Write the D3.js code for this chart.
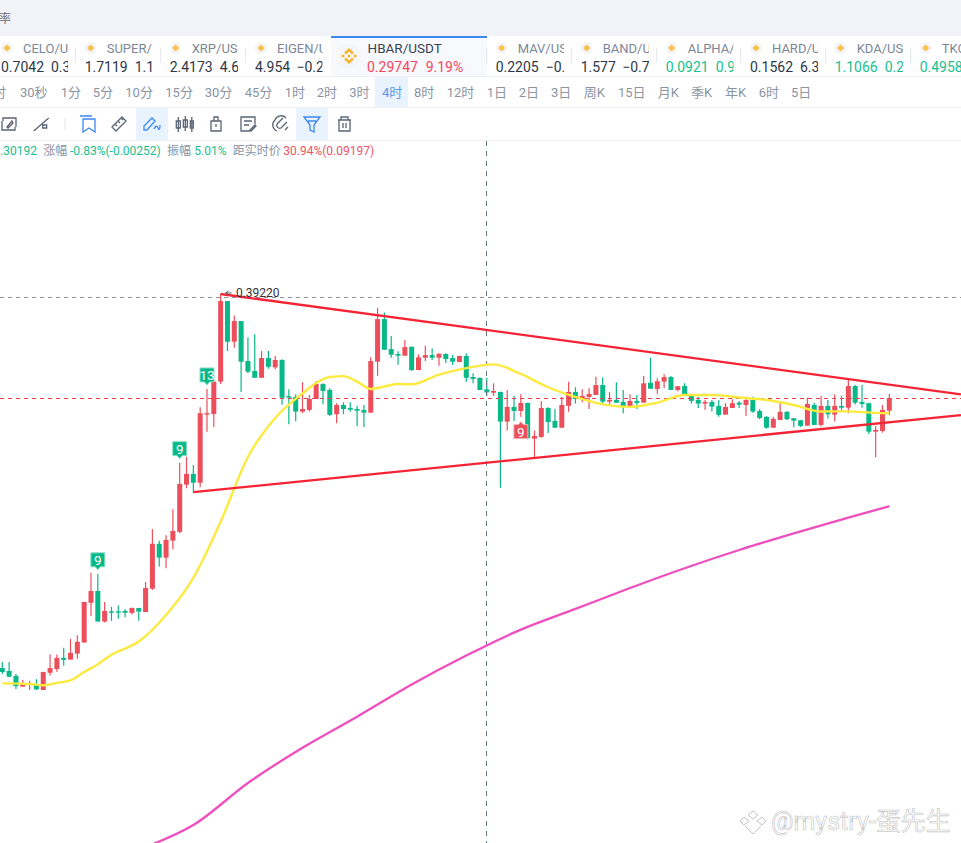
<!DOCTYPE html>
<html>
<head>
<meta charset="utf-8">
<script src="https://cdn.jsdelivr.net/npm/d3@7"></script>
<style>
    html, body { margin: 0; padding: 0; background: #fff; overflow: hidden; }
    svg { display: block; }
    text { font-family: Roboto, "Noto Sans CJK SC", sans-serif; }
</style>
</head>
<body>
<div id="chart"></div>
<script>
// candles, oldest first (red = up, green = down)
var opens = [
    .1451,.1440,.1421,.1381,.1391,.1390,.1369,.1433,.1447,.1491,
    .1484,.1508,.1553,.1726,.1781,.1642,.1687,.1687,.1689,.1680,
    .1702,.1684,.1792,.2019,.1946,.2036,.2084,.2363,.2431,.2375,
    .2846,.2851,.3107,.3849,.3455,.3650,.3282,.3196,.3139,.3308,
    .3227,.3291,.2989,.2983,.2869,.2882,.2967,.3087,.3039,.2849,
    .2920,.2897,.2889,.2882,.2861,.3276,.3669,.3388,.3344,.3329,
    .3409,.3204,.3311,.3334,.3311,.3344,.3308,.3273,.3326,.3145,
    .3137,.30444,.3017,.3023,.2794,.2905,.2874,.2936,.2670,.2682,
    .2897,.2799,.2749,.2913,.3023,.2967,.2983,.2999,.3079,.2946,
    .2959,.2944,.2913,.2952,.2938,.3098,.3047,.3107,.3145,.3039,
    .3071,.2996,.2959,.2931,.2944,.2913,.2846,.2897,.2938,.2920,
    .2959,.2874,.2828,.2749,.2806,.2867,.2819,.2804,.2764,.2920,
    .2769,.2913,.2846,.2913,.2899,.3071,.2944,.2934,.2720,.2725,
    .2876];
var highs = [
    .1475,.1475,.1428,.1406,.1403,.1409,.1437,.1504,.1504,.1532,
    .1568,.1583,.1730,.1870,.1864,.1730,.1708,.1714,.1696,.1705,
    .1703,.1824,.2099,.2035,.2066,.2213,.2505,.2545,.2490,.2902,
    .3047,.3113,.39220,.3849,.3705,.3650,.3496,.3524,.3370,.3370,
    .3326,.3297,.3045,.3005,.3102,.2999,.3113,.3093,.3053,.2933,
    .2941,.2941,.2915,.2920,.3314,.3781,.3735,.3508,.3368,.3471,
    .3409,.3341,.3418,.3394,.3350,.3350,.3334,.3328,.3350,.3177,
    .3143,.3139,.3093,.3025,.3039,.2993,.3005,.2938,.2728,.2952,
    .2902,.2889,.2985,.3107,.3061,.3045,.3053,.3148,.3143,.3021,
    .3102,.3039,.3005,.2999,.3153,.3311,.3135,.3168,.3153,.3071,
    .3093,.2999,.2985,.2959,.2959,.2959,.2934,.2965,.2952,.2985,
    .2985,.2889,.2836,.2831,.2938,.2874,.2821,.2806,.2977,.2938,
    .2991,.2959,.3005,.2993,.3121,.3079,.3079,.2938,.2762,.2920,
    .3007];
var lows = [
    .1428,.1417,.1372,.1381,.1369,.1369,.1369,.1423,.1437,.1460,
    .1484,.1487,.1553,.1668,.1642,.1638,.1645,.1654,.1661,.1673,
    .1645,.1684,.1786,.1900,.1892,.1990,.2077,.2340,.2313,.2346,
    .2720,.2754,.3087,.3370,.3400,.3023,.3177,.3139,.3139,.3215,
    .3210,.2922,.2774,.2797,.2857,.2869,.2967,.2926,.2836,.2782,
    .2849,.2867,.2762,.2754,.2861,.3156,.3382,.3311,.3249,.3329,
    .3196,.3204,.3282,.3291,.3240,.3265,.3247,.3273,.3107,.3094,
    .3039,.2993,.2993,.2344,.2728,.2799,.2831,.2666,.2534,.2677,
    .2711,.2749,.2749,.2867,.2931,.2941,.2889,.2999,.2934,.2920,
    .2938,.2857,.2895,.2889,.2938,.3049,.3009,.3053,.3039,.3029,
    .3001,.2931,.2897,.2882,.2869,.2831,.2846,.2897,.2897,.2836,
    .2861,.2811,.2742,.2749,.2806,.2806,.2752,.2754,.2764,.2769,
    .2757,.2816,.2794,.2864,.2857,.2923,.2899,.2704,.2541,.2713,
    .2841];
var closes = [
    .1436,.1418,.1383,.1391,.1393,.1371,.1436,.1451,.1491,.1483,
    .1511,.1556,.1730,.1781,.1642,.1689,.1681,.1681,.1681,.1702,
    .1686,.1795,.2019,.1946,.2040,.2089,.2367,.2431,.2375,.2857,
    .2857,.3107,.3849,.3455,.3650,.3276,.3190,.3139,.3308,.3232,
    .3291,.2977,.2977,.2869,.2889,.2967,.3087,.3031,.2844,.2920,
    .2889,.2884,.2876,.2861,.3282,.3669,.3382,.3337,.3329,.3406,
    .3204,.3314,.3334,.3311,.3346,.3299,.3276,.3326,.3139,.3129,
    .3039,.30192,.3031,.2794,.2905,.2874,.2936,.2673,.2689,.2897,
    .2791,.2749,.2920,.3023,.2967,.2991,.3007,.3079,.2946,.2959,
    .2938,.2907,.2952,.2936,.3093,.3049,.3110,.3145,.3039,.3069,
    .3001,.2952,.2931,.2944,.2907,.2844,.2905,.2934,.2923,.2959,
    .2869,.2821,.2749,.2814,.2867,.2811,.2801,.2762,.2928,.2769,
    .2913,.2849,.2913,.2899,.3071,.2938,.2928,.2720,.2733,.2882,
    .29747];

// moving averages, read every few candles
var maFastIdx = [0,4,6,8,10,12,14,16,20,24,28,32,36,40,44,46,48,50,52,54,56,58,60,64,68,72,76,80,84,88,92,96,100,104,108,112,116,120,124,128,130];
var maFast = [.1393,.1391,.1386,.1395,.1404,.1436,.1466,.1503,.1557,.1671,.1844,.2141,.2543,.2821,.3011,.3096,.3145,.3153,.3107,.3047,.3067,.3087,.3085,.3166,.3221,.3253,.3171,.3061,.2983,.2925,.2905,.2938,.2999,.2999,.2979,.2959,.2920,.2870,.2871,.2859,.2857];
var maSlowIdx = [22,28,36,44,52,60,68,76,84,92,100,108,116,124,130];
var maSlow = [.0908,.0956,.1069,.1174,.1275,.1389,.1500,.1607,.1698,.1795,.1892,.1986,.2076,.2165,.2231];

// drawn trend lines [candle index, price]
var trendUpper = [[32, .39220], [140.5, .3004]];
var trendLower = [[28, .2316], [140.5, .2843]];

var lastPrice = 0.29747;
var highPrice = 0.39220;
var highGuide = 0.3887;
var crossIdx = 71;

// sequence tags on candles
var tagIdx = [14, 26, 30, 76];
var tagText = ['9', '9', '13', '9'];
var tagUp = [true, true, true, false];

// ticker strip
var tabNames = ['CELO/U','SUPER/','XRP/US','EIGEN/U','MAV/US','BAND/U','ALPHA/','HARD/U','KDA/US','TKO'];
var tabPrices = ['0.7042','1.7119','2.4173','4.954','0.2205','1.577','0.0921','0.1562','1.1066','0.4958'];
var tabChanges = ['0.3','1.1','4.6','\u22120.2','\u22120.','\u22120.7','0.9','6.3','0.2',''];
var tabGreen = ['ALPHA/','KDA/US','TKO'];

var intervals = ['\u65f6','30\u79d2','1\u5206','5\u5206','10\u5206','15\u5206','30\u5206','45\u5206','1\u65f6','2\u65f6','3\u65f6','4\u65f6','8\u65f6','12\u65f6','1\u65e5','2\u65e5','3\u65e5','\u5468K','15\u65e5','\u6708K','\u5b63K','\u5e74K','6\u65f6','5\u65e5'];

var width = 961, height = 843;
var RED = '#ec4f5b', GREEN = '#07b888', GREY = '#8b94a3', BLUE = '#3d88ef';

var svg = d3.select('#chart').append('svg')
    .attr('xmlns', 'http://www.w3.org/2000/svg')
    .attr('width', width)
    .attr('height', height);

// crisp 1px guide lines
function snap(v) {
    return Math.floor(v) + 0.5;
}

// --- page chrome ---
svg.append('rect').attr('width', width).attr('height', height).attr('fill', '#fff');
svg.append('rect').attr('width', width).attr('height', 36).attr('fill', '#f1f3f8');
svg.append('text').attr('x', -1).attr('y', 23).attr('font-size', 12).attr('fill', '#6b7280').text('\u7387');

[76.5, 107.5, 140.5].forEach(function(y){
    svg.append('line').attr('x1', 0).attr('x2', width).attr('y1', y).attr('y2', y)
        .attr('stroke', '#eef0f4');
});

// ticker strip
var tabIconX = [7, 90.7, 175.7, 261, 501.7, 586.7, 671.7, 756, 840.7, 925.7];
var tabClipEnd = [68, 152.5, 238, 322.5, 564, 649, 733.5, 818, 903, 961];
var defs = svg.append('defs');
var diamond = 'M0,-3.6L3.6,0L0,3.6L-3.6,0Z';

svg.append('rect').attr('x', 331).attr('y', 38).attr('width', 156).attr('height', 38).attr('fill', '#f8f9fc');
svg.append('rect').attr('x', 331).attr('y', 36).attr('width', 156).attr('height', 2).attr('fill', BLUE);

var tabs = svg.selectAll('g.tab').data(tabNames).join('g').attr('class', 'tab')
    .attr('clip-path', function(d, i){ return 'url(#tabclip' + i + ')'; });
tabNames.forEach(function(d, i){
    defs.append('clipPath').attr('id', 'tabclip' + i).append('rect')
        .attr('x', tabIconX[i] - 10).attr('y', 38).attr('width', tabClipEnd[i] - tabIconX[i] + 10).attr('height', 38);
});
tabs.append('circle').attr('cx', function(d, i){ return tabIconX[i]; }).attr('cy', 48).attr('r', 6).attr('fill', '#f5f5f7');
tabs.append('path').attr('d', diamond).attr('fill', '#f7c04a')
    .attr('transform', function(d, i){ return 'translate(' + tabIconX[i] + ',48)'; });
tabs.append('text').attr('x', function(d, i){ return tabIconX[i] + 16; }).attr('y', 53)
    .attr('font-size', 13).attr('fill', '#7c8797').text(function(d){ return d; });
tabs.append('text').attr('x', function(d, i){ return tabIconX[i] - 6; }).attr('y', 72)
    .attr('font-size', 14).attr('fill', function(d){ return tabGreen.indexOf(d) >= 0 ? '#17c08e' : '#2d3748'; })
    .text(function(d, i){ return tabPrices[i]; });
tabs.append('text').attr('x', function(d, i){ return tabIconX[i] - 6 + (tabPrices[i].length > 5 ? 50 : 41.5); }).attr('y', 72)
    .attr('font-size', 14).attr('fill', function(d){ return tabGreen.indexOf(d) >= 0 ? '#17c08e' : '#2d3748'; })
    .text(function(d, i){ return tabChanges[i]; });

svg.selectAll('line.tabsep').data([75.3, 160.7, 245.7, 486.7, 571.7, 656.7, 740.7, 825.7, 910.7]).join('line')
    .attr('class', 'tabsep')
    .attr('x1', function(d){ return d; }).attr('x2', function(d){ return d; })
    .attr('y1', 48).attr('y2', 63).attr('stroke', '#e3e6eb');

// active ticker
svg.append('circle').attr('cx', 349).attr('cy', 56).attr('r', 12).attr('fill', '#f6f6f8');
var binance = svg.append('g').attr('transform', 'translate(349,56)').attr('fill', '#f7b32b');
binance.append('path').attr('d', 'M0,-8L4.8,-3.2L3,-1.4L0,-4.4L-3,-1.4L-4.8,-3.2Z');
binance.append('path').attr('d', 'M0,8L4.8,3.2L3,1.4L0,4.4L-3,1.4L-4.8,3.2Z');
binance.append('path').attr('d', 'M0,-1.8L1.8,0L0,1.8L-1.8,0Z');
binance.append('path').attr('d', 'M-6,-1.8L-4.2,0L-6,1.8L-7.8,0Z');
binance.append('path').attr('d', 'M6,-1.8L7.8,0L6,1.8L4.2,0Z');
svg.append('text').attr('x', 367.5).attr('y', 53).attr('font-size', 13.5).attr('fill', '#3a4456').text('HBAR/USDT');
svg.append('text').attr('x', 367).attr('y', 72).attr('font-size', 14).attr('fill', '#f6465d').text(lastPrice.toFixed(5));
svg.append('text').attr('x', 425.7).attr('y', 72).attr('font-size', 14).attr('fill', '#f6465d').text('9.19%');

// interval row
var intervalX = [-7, 20, 60.7, 92.7, 125.3, 165.3, 204.7, 244.7, 284.7, 316.7, 349.3, 382, 414, 446.7, 486.7, 518.7, 551, 583.7, 618, 657.7, 691, 725, 758.7, 791];
svg.append('rect').attr('x', 375).attr('y', 77).attr('width', 33).attr('height', 30).attr('fill', '#e8f3fe');
svg.selectAll('text.interval').data(intervals).join('text').attr('class', 'interval')
    .attr('x', function(d, i){ return intervalX[i]; }).attr('y', 97)
    .attr('font-size', 13)
    .attr('fill', function(d, i){ return i === 11 ? '#5b97ea' : GREY; })
    .text(function(d){ return d; });

// toolbar
svg.append('rect').attr('x', 136).attr('y', 108).attr('width', 32).attr('height', 32).attr('fill', '#e8f3fe');
svg.append('rect').attr('x', 296).attr('y', 108).attr('width', 32).attr('height', 32).attr('fill', '#e8f3fe');
svg.append('line').attr('x1', 65).attr('x2', 65).attr('y1', 118).attr('y2', 130).attr('stroke', '#e3e6eb');
var toolIcons = [
    [9, '#5a6475', 'M-6,-3V-6H3M6,3V6H-3M-7,-3V6H-3M7,3V-6H3M-2,3L3,-3L4,-1L-1,4Z'],
    [41.7, '#5a6475', 'M-8,7L7,-6M1,1h4v3h-4Z'],
    [88, BLUE, 'M-8,-8H4M-5,-5H7V8L1,4L-5,8Z'],
    [119, '#5a6475', 'M-7,3L3,-7L7,-3L-3,7ZM-4,0L-2,2M-1,-3L1,-1M2,-6L4,-4'],
    [151, BLUE, 'M-7,6V2L1,-6L4,-3L-4,6ZM3,5Q5,0 7,4T9,1'],
    [184.3, '#5a6475', 'M-8,-3H-4V4H-8ZM-1,-4H3V3H-1ZM6,-3H9V4H6ZM-6,-7V8M1,-8V7M7.5,-7V8'],
    [216, '#5a6475', 'M-5,-3H5V7H-5ZM-2,-3V-7H2V-3M0,0V3'],
    [248, '#5a6475', 'M7,0V-7H-7V7H2M-4,-3H4M-4,1H1M2,6L7,1L8,2L3,7Z'],
    [280, '#5a6475', 'M-3,7A6.5,6.5 0 0 1 -5,-4A6.5,6.5 0 0 1 6,-6M7,-2L1,4A3,3 0 0 1 -3,0L3,-6M5,6L8,3'],
    [312, BLUE, 'M-8,-7H8L2,1V8L-2,6V1ZM-4,-3H4'],
    [344, '#5a6475', 'M-6,-4H7M-3,-4V-7H4V-4M-5,-4V7H6V-4M-1,-1V4M2,-1V4']
];
svg.selectAll('path.tool').data(toolIcons).join('path').attr('class', 'tool')
    .attr('d', function(d){ return d[2]; })
    .attr('transform', function(d){ return 'translate(' + d[0] + ',124)'; })
    .attr('fill', 'none').attr('stroke', function(d){ return d[1]; }).attr('stroke-width', 1.3);

// crosshair readout
var readout = [
    [0, '.30192', '#17c08e'],
    [43.3, '\u6da8\u5e45', GREY],
    [70, '-0.83%(-0.00252)', '#17c08e'],
    [167, '\u632f\u5e45', GREY],
    [194.3, '5.01%', '#17c08e'],
    [232.7, '\u8ddd\u5b9e\u65f6\u4ef7', GREY],
    [283.3, '30.94%(0.09197)', '#f0555f']
];
svg.selectAll('text.readout').data(readout).join('text').attr('class', 'readout')
    .attr('x', function(d){ return d[0]; }).attr('y', 155).attr('font-size', 12)
    .attr('fill', function(d){ return d[2]; }).text(function(d){ return d[1]; });

// --- chart ---
var x = d3.scaleLinear().domain([0, 130]).range([2.3, 889.3]);
var y = d3.scaleLog().domain([lastPrice, highPrice]).range([398, 294]);

defs.append('clipPath').attr('id', 'plot').append('rect')
    .attr('x', 0).attr('y', 141).attr('width', width).attr('height', height - 141);
var plot = svg.append('g').attr('clip-path', 'url(#plot)');

plot.append('line').attr('x1', 0).attr('x2', width)
    .attr('y1', snap(y(highGuide))).attr('y2', snap(y(highGuide)))
    .attr('stroke', '#8f949c').attr('stroke-dasharray', '4,4');

var candles = plot.selectAll('g.candle').data(closes).join('g').attr('class', 'candle')
    .attr('fill', function(d, i){ return d >= opens[i] ? RED : GREEN; })
    .attr('stroke', function(d, i){ return d >= opens[i] ? RED : GREEN; });
candles.append('line')
    .attr('x1', function(d, i){ return x(i); }).attr('x2', function(d, i){ return x(i); })
    .attr('y1', function(d, i){ return y(highs[i]); }).attr('y2', function(d, i){ return y(lows[i]); })
    .attr('stroke-width', 1.2);
candles.append('rect')
    .attr('x', function(d, i){ return x(i) - 2.5; })
    .attr('width', 5)
    .attr('y', function(d, i){ return y(Math.max(d, opens[i])); })
    .attr('height', function(d, i){ return Math.max(1.2, Math.abs(y(d) - y(opens[i]))); })
    .attr('stroke', 'none');

// last price guide sits over the candles
plot.append('line').attr('x1', 0).attr('x2', width)
    .attr('y1', snap(y(lastPrice))).attr('y2', snap(y(lastPrice)))
    .attr('stroke', '#ee3f4d').attr('stroke-dasharray', '4,4');

// crosshair
plot.append('line').attr('x1', snap(x(crossIdx))).attr('x2', snap(x(crossIdx)))
    .attr('y1', 141).attr('y2', height)
    .attr('stroke', '#64798e').attr('stroke-dasharray', '5,5');

var maLine = d3.line()
    .x(function(d){ return x(d[0]); })
    .y(function(d){ return y(d[1]); })
    .curve(d3.curveMonotoneX);

plot.append('path').attr('d', maLine(d3.zip(maFastIdx, maFast)))
    .attr('fill', 'none').attr('stroke', '#fcea3f').attr('stroke-width', 2.4);
plot.append('path').attr('d', maLine(d3.zip(maSlowIdx, maSlow)))
    .attr('fill', 'none').attr('stroke', '#ee4fbe').attr('stroke-width', 2.3);

var straight = d3.line().x(function(d){ return x(d[0]); }).y(function(d){ return y(d[1]); });
[trendUpper, trendLower].forEach(function(t){
    plot.append('path').attr('d', straight(t))
        .attr('fill', 'none').attr('stroke', '#f62334').attr('stroke-width', 2.3);
});

// high label with arrow
var hx = x(highs.indexOf(highPrice));
plot.append('path')
    .attr('d', 'M' + (hx + 11) + ',' + (y(highPrice) - 1) + 'H' + (hx + 5) + 'M' + (hx + 8) + ',' + (y(highPrice) - 3) + 'L' + (hx + 5) + ',' + (y(highPrice) - 1) + 'L' + (hx + 8) + ',' + (y(highPrice) + 1))
    .attr('fill', 'none').attr('stroke', '#555c66');
plot.append('text').attr('x', hx + 15.3).attr('y', y(highPrice) + 3)
    .attr('font-size', 12).attr('fill', '#333').text(highPrice.toFixed(5));

// sequence tags, sitting over the high or under the low of the candle
var tags = plot.selectAll('g.tag').data(tagIdx).join('g').attr('class', 'tag')
    .attr('transform', function(d, i){
        return 'translate(' + x(d) + ',' + (tagUp[i] ? y(highs[d]) - 4 : y(lows[d]) + 5) + ')';
    });
tags.append('path')
    .attr('d', function(d, i){
        return tagUp[i] ? 'M-7,-17H7V-3H2.5L0,0L-2.5,-3H-7Z' : 'M-7,17H7V3H2.5L0,0L-2.5,3H-7Z';
    })
    .attr('fill', function(d, i){ return tagUp[i] ? GREEN : RED; })
    .attr('stroke', function(d, i){ return tagUp[i] ? '#8fe0c8' : '#f5b3b9'; })
    .attr('stroke-width', 1);
tags.append('text')
    .attr('y', function(d, i){ return tagUp[i] ? -5 : 15; })
    .attr('text-anchor', 'middle').attr('font-size', 13.5).attr('fill', '#fff')
    .text(function(d, i){ return tagText[i]; });

// watermark
var mark = svg.append('g').attr('fill', 'none').attr('stroke', '#c4c4c4').attr('stroke-width', 1);
mark.append('path').attr('d', 'M753,811L758,815L753,819L748,815ZM744,817L749,821L744,825L740,821ZM762,817L766,821L762,825L757,821ZM745,826L753,834L761,826');
svg.append('text').attr('x', 771).attr('y', 830).attr('font-size', 25)
    .attr('fill', '#fff').attr('stroke', '#c2c2c2').attr('stroke-width', 0.6)
    .text('@mystry-\u86cb\u5148\u751f');
</script>
</body>
</html>
